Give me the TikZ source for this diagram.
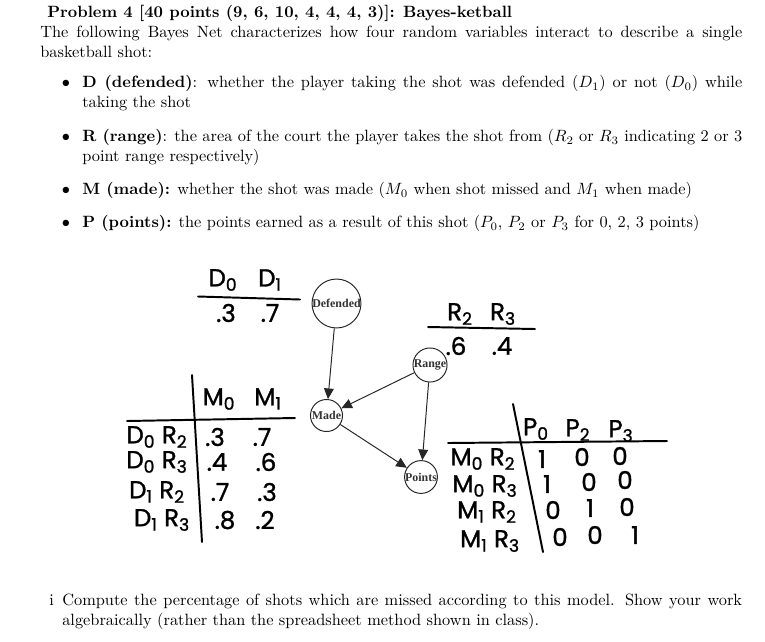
\documentclass[tikz,border=0pt]{standalone}
\usepackage{fontspec}
\newfontfamily\hand[FakeBold=1.2]{Poppins}
\newfontfamily\netfont{Liberation Serif}
\usetikzlibrary{arrows.meta}

\begin{document}
\begin{tikzpicture}[x=0.612pt, y=-0.612pt]
    \tikzstyle{txt}=[anchor=north west, inner sep=0, align=justify]
    \tikzstyle{dot}=[anchor=base, inner sep=0]
    \tikzstyle{hw}=[inner sep=0, font=\hand\fontsize{15}{17}\selectfont]
    \tikzstyle{rule}=[line width=1.2pt, line cap=round]
    \tikzstyle{bn}=[circle, draw=black!85, line width=0.6pt, minimum size=19.6pt, inner sep=0, text=black!80, font=\netfont\bfseries\fontsize{7.3}{8}\selectfont]
    \tikzstyle{edge}=[-{Triangle[length=6.5pt,width=6pt]}, black!85, line width=0.6pt]
    \useasboundingbox (0,0) rectangle (765,641);
    % problem text
    \node[anchor=base west, inner sep=0] (title) at (47,17.5) {\bfseries Problem 4 [40 points (9, 6, 10, 4, 4, 4, 3)]: Bayes-ketball};
    \node[txt, text width=429.6pt] (intro) at (40,23.6) {\strut The following Bayes Net characterizes how four random variables interact to describe a single basketball shot:};
    \node[dot] (b1) at (66,87.5) {$\bullet$};
    \node[txt, text width=403.9pt] (itemd) at (82,73.6) {\strut\textbf{D (defended)}: whether the player taking the shot was defended ($D_1$) or not ($D_0$) while taking the shot};
    \node[dot] (b2) at (66,141.5) {$\bullet$};
    \node[txt, text width=403.9pt] (itemr) at (82,127.6) {\strut\textbf{R (range)}: the area of the court the player takes the shot from ($R_2$ or $R_3$ indicating 2 or 3 point range respectively)};
    \node[dot] (b3) at (66,194.5) {$\bullet$};
    \node[txt, text width=403.9pt] (itemm) at (82,180.6) {\strut\textbf{M (made):} whether the shot was made ($M_0$ when shot missed and $M_1$ when made)};
    \node[dot] (b4) at (66,227.5) {$\bullet$};
    \node[txt, text width=403.9pt] (itemp) at (82,213.6) {\strut\textbf{P (points):} the points earned as a result of this shot ($P_0$, $P_2$ or $P_3$ for 0, 2, 3 points)};
    \node[txt, text width=416pt] (parti) at (62,591.6) {\strut\llap{i\hspace{5.2pt}}Compute the percentage of shots which are missed according to this model. Show your work algebraically (rather than the spreadsheet method shown in class).};
    % bayes net
    \node[bn] (def) at (336.5,303.5) {Defended};
    \node[bn] (rng) at (430,365) {Range};
    \node[bn] (made) at (326.5,415.5) {Made};
    \node[bn] (pts) at (421,477) {Points};
    \draw[edge] (def) -- (made);
    \draw[edge] (rng) -- (made); \draw[edge] (rng) -- (pts);
    \draw[edge] (made) -- (pts);
    % P(D)
    \node[hw] (d0) at (223,280) {D\textsubscript{0}};
    \node[hw] (d1) at (270,280) {D\textsubscript{1}};
    \draw[rule] (198,296.5) -- (300,299.5);
    \node[hw] (pd0) at (226,313) {.3};
    \node[hw] (pd1) at (270,313) {.7};
    % P(R)
    \node[hw] (r2) at (460,314) {R\textsubscript{2}};
    \node[hw] (r3) at (503,314) {R\textsubscript{3}};
    \draw[rule] (428,327) -- (535,329);
    \node[hw] (pr2) at (456,346) {.6};
    \node[hw] (pr3) at (502,346) {.4};
    % P(M | D, R)
    \draw[rule] (192,375) -- (202,542);
    \draw[rule] (127,421) -- (295,418);
    \node[hw] (m0) at (219,399) {M\textsubscript{0}};
    \node[hw] (m1) at (268,399) {M\textsubscript{1}};
    \node[hw] (ma) at (157,437) {D\textsubscript{0} R\textsubscript{2}};
    \node[hw] (mb) at (157,462) {D\textsubscript{0} R\textsubscript{3}};
    \node[hw] (mc) at (157,492) {D\textsubscript{1} R\textsubscript{2}};
    \node[hw] (md) at (162,520) {D\textsubscript{1} R\textsubscript{3}};
    \node[hw] (ma0) at (215,437) {.3}; \node[hw] (ma1) at (262,437) {.7};
    \node[hw] (mb0) at (217,462) {.4}; \node[hw] (mb1) at (266,462) {.6};
    \node[hw] (mc0) at (220,492) {.7}; \node[hw] (mc1) at (267,492) {.3};
    \node[hw] (md0) at (225,520) {.8}; \node[hw] (md1) at (265,520) {.2};
    % P(P | M, R)
    \draw[rule] (513,404) -- (543,552);
    \draw[rule] (448,443) -- (667,441);
    \node[hw] (p0) at (536,429) {P\textsubscript{0}};
    \node[hw] (p2) at (578,430) {P\textsubscript{2}};
    \node[hw] (p3) at (621,431) {P\textsubscript{3}};
    \node[hw] (pa) at (483,459) {M\textsubscript{0} R\textsubscript{2}};
    \node[hw] (pb) at (485,486) {M\textsubscript{0} R\textsubscript{3}};
    \node[hw] (pc) at (487,512) {M\textsubscript{1} R\textsubscript{2}};
    \node[hw] (pd) at (490,541) {M\textsubscript{1} R\textsubscript{3}};
    \node[hw] (pa0) at (542,459) {1}; \node[hw] (pa2) at (582,457) {0}; \node[hw] (pa3) at (620,456) {0};
    \node[hw] (pb0) at (547,484) {1}; \node[hw] (pb2) at (589,482) {0}; \node[hw] (pb3) at (625,480) {0};
    \node[hw] (pc0) at (553,510) {0}; \node[hw] (pc2) at (590,508) {1}; \node[hw] (pc3) at (627,507) {0};
    \node[hw] (pd0) at (560,537) {0}; \node[hw] (pd2) at (595,535) {0}; \node[hw] (pd3) at (635,535) {1};
\end{tikzpicture}
\end{document}
